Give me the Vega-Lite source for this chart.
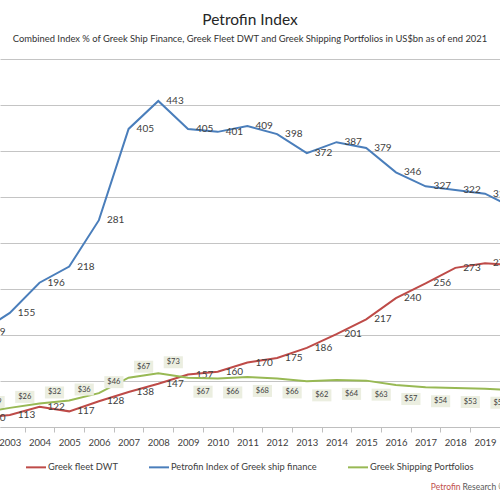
{
  "$schema": "https://vega.github.io/schema/vega-lite/v6.json",
  "width": 500,
  "height": 368,
  "autosize": {"type": "none"},
  "padding": {"left": 0, "top": 59, "right": 0, "bottom": 73},
  "background": "white",
  "config": {
    "view": {"stroke": null},
    "font": "Lato",
    "axis": {"labelFont": "Lato", "titleFont": "Lato"},
    "axisX": {"labelOverlap": false, "labelFlush": false, "labelBound": false},
    "legend": {"labelFont": "Lato"}
  },
  "title": {
    "text": "Petrofin Index",
    "subtitle": "Combined Index % of Greek Ship Finance, Greek Fleet DWT and Greek Shipping Portfolios in US$bn as of end 2021",
    "anchor": "middle",
    "font": "Lato",
    "fontSize": 15.5,
    "fontWeight": "normal",
    "color": "#262626",
    "subtitleFont": "Lato",
    "subtitleFontSize": 9.4,
    "subtitleColor": "#333333",
    "subtitlePadding": 6,
    "offset": 16
  },
  "data": {
    "values": [
      {"year": 2002, "dwt": 110, "index": 129, "portfolios": 19},
      {"year": 2003, "dwt": 113, "index": 155, "portfolios": 26},
      {"year": 2004, "dwt": 122, "index": 196, "portfolios": 32},
      {"year": 2005, "dwt": 117, "index": 218, "portfolios": 36},
      {"year": 2006, "dwt": 128, "index": 281, "portfolios": 46},
      {"year": 2007, "dwt": 138, "index": 405, "portfolios": 67},
      {"year": 2008, "dwt": 147, "index": 443, "portfolios": 73},
      {"year": 2009, "dwt": 157, "index": 405, "portfolios": 67},
      {"year": 2010, "dwt": 160, "index": 401, "portfolios": 66},
      {"year": 2011, "dwt": 170, "index": 409, "portfolios": 68},
      {"year": 2012, "dwt": 175, "index": 398, "portfolios": 66},
      {"year": 2013, "dwt": 186, "index": 372, "portfolios": 62},
      {"year": 2014, "dwt": 201, "index": 387, "portfolios": 64},
      {"year": 2015, "dwt": 217, "index": 379, "portfolios": 63},
      {"year": 2016, "dwt": 240, "index": 346, "portfolios": 57},
      {"year": 2017, "dwt": 256, "index": 327, "portfolios": 54},
      {"year": 2018, "dwt": 273, "index": 322, "portfolios": 53},
      {"year": 2019, "dwt": 278, "index": 317, "portfolios": 52},
      {"year": 2020, "dwt": 276, "index": 297, "portfolios": 50}
    ]
  },
  "encoding": {
    "x": {
      "field": "year",
      "type": "quantitative",
      "scale": {"domain": [2002.67, 2019.505], "nice": false, "zero": false},
      "axis": {
        "values": [2003, 2004, 2005, 2006, 2007, 2008, 2009, 2010, 2011, 2012, 2013, 2014, 2015, 2016, 2017, 2018, 2019],
        "tickCount": 20,
        "format": "d",
        "grid": false,
        "tickOffset": 14.85,
        "labelOffset": -14.85,
        "tickSize": 5,
        "tickColor": "#bfbfbf",
        "domainColor": "#bfbfbf",
        "labelColor": "#404040",
        "labelFontSize": 9.5,
        "labelPadding": 5,
        "labelFlush": false,
        "labelOverlap": false,
        "labelBound": false,
        "labelSeparation": 0,
        "title": "Petrofin",
        "titleColor": "#c0504d",
        "titleFontSize": 8.5,
        "titleFontWeight": "normal",
        "titleX": 460,
        "titleY": 59,
        "titleAlign": "right",
        "titleBaseline": "middle",
        "titleAnchor": null
      }
    }
  },
  "layer": [
    {
      "layer": [
        {
          "mark": {"type": "line", "strokeWidth": 2, "clip": true},
          "encoding": {
            "y": {
              "field": "dwt",
              "type": "quantitative",
              "scale": {"domain": [100, 500], "nice": false, "zero": false},
              "axis": {
                "values": [100, 150, 200, 250, 300, 350, 400, 450, 500],
                "grid": true,
                "gridColor": "#c4c4c4",
                "labels": false,
                "ticks": false,
                "domain": false,
                "title": null
              }
            },
            "color": {
              "datum": "Greek fleet DWT",
              "type": "nominal",
              "scale": {
                "domain": ["Greek fleet DWT", "Petrofin Index of Greek ship finance", "Greek Shipping Portfolios"],
                "range": ["#be4b48", "#4a7ebb", "#98b954"]
              },
              "legend": {
                "orient": "none",
                "legendX": 25,
                "legendY": 397,
                "direction": "horizontal",
                "symbolType": "stroke",
                "symbolStrokeWidth": 2,
                "symbolSize": 400,
                "labelFontSize": 9.3,
                "labelColor": "#404040",
                "labelOffset": 1,
                "columnPadding": 27,
                "title": null
              }
            }
          }
        },
        {
          "mark": {"type": "text", "align": "left", "baseline": "middle", "dx": 8, "fontSize": 10, "color": "#404040", "clip": true},
          "encoding": {
            "y": {"field": "dwt", "type": "quantitative"},
            "text": {"field": "dwt", "type": "quantitative"}
          }
        }
      ]
    },
    {
      "layer": [
        {
          "mark": {"type": "line", "strokeWidth": 2, "clip": true},
          "encoding": {
            "y": {
              "field": "index",
              "type": "quantitative",
              "scale": {"domain": [0, 500], "nice": false},
              "axis": {
                "orient": "right",
                "values": [0],
                "labels": false,
                "ticks": false,
                "domain": false,
                "grid": false,
                "title": "Research ©",
                "titleAngle": 0,
                "titleX": -38,
                "titleY": 427,
                "titleAlign": "left",
                "titleBaseline": "middle",
                "titleColor": "#595959",
                "titleFontSize": 8.5,
                "titleFontWeight": "normal"
              }
            },
            "color": {"datum": "Petrofin Index of Greek ship finance", "type": "nominal"}
          }
        },
        {
          "mark": {"type": "line", "strokeWidth": 2, "clip": true},
          "encoding": {
            "y": {"field": "portfolios", "type": "quantitative"},
            "color": {"datum": "Greek Shipping Portfolios", "type": "nominal"}
          }
        },
        {
          "mark": {"type": "text", "align": "left", "baseline": "middle", "dx": 8, "fontSize": 10, "color": "#404040", "clip": true},
          "encoding": {
            "y": {"field": "index", "type": "quantitative"},
            "text": {"field": "index", "type": "quantitative"}
          }
        },
        {
          "transform": [{"filter": "datum.year <= 2008"}],
          "layer": [
            {
              "mark": {"type": "point", "shape": "M-1.6,-1L1.6,-1L1.6,1L-1.6,1Z", "filled": true, "size": 144, "color": "#ebeee0", "opacity": 1, "xOffset": 15, "yOffset": -11, "clip": true},
              "encoding": {
                "y": {"field": "portfolios", "type": "quantitative"}
              }
            },
            {
              "mark": {"type": "text", "align": "center", "baseline": "middle", "fontSize": 7.5, "color": "#404040", "xOffset": 15, "yOffset": -11, "clip": true},
              "encoding": {
                "y": {"field": "portfolios", "type": "quantitative"},
                "text": {"field": "portfolios", "type": "quantitative", "format": "$.0f"}
              }
            }
          ]
        },
        {
          "transform": [{"filter": "datum.year > 2008"}],
          "layer": [
            {
              "mark": {"type": "point", "shape": "M-1.6,-1L1.6,-1L1.6,1L-1.6,1Z", "filled": true, "size": 144, "color": "#ebeee0", "opacity": 1, "xOffset": 15, "yOffset": 14, "clip": true},
              "encoding": {
                "y": {"field": "portfolios", "type": "quantitative"}
              }
            },
            {
              "mark": {"type": "text", "align": "center", "baseline": "middle", "fontSize": 7.5, "color": "#404040", "xOffset": 15, "yOffset": 14, "clip": true},
              "encoding": {
                "y": {"field": "portfolios", "type": "quantitative"},
                "text": {"field": "portfolios", "type": "quantitative", "format": "$.0f"}
              }
            }
          ]
        }
      ]
    }
  ],
  "resolve": {"scale": {"y": "independent"}}
}
